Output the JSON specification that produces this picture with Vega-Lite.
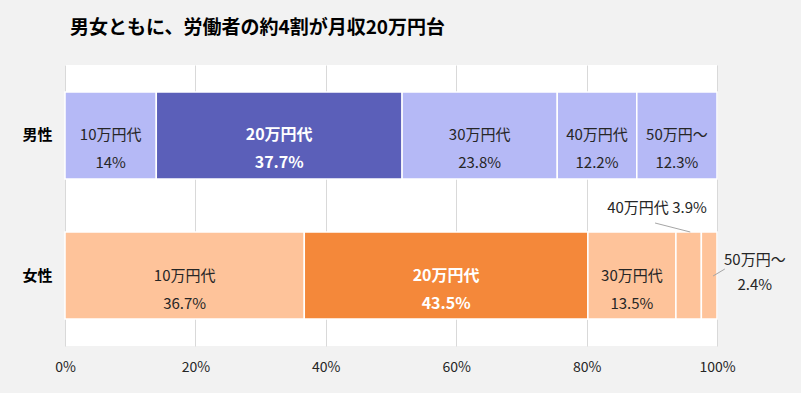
{
  "$schema": "https://vega.github.io/schema/vega-lite/v6.json",
  "autosize": {"type": "none"},
  "width": 652,
  "height": 281,
  "padding": {"left": 65, "top": 65, "right": 84, "bottom": 47},
  "background": "#f2f2f2",
  "config": {
    "font": "Noto Sans CJK JP",
    "view": {"fill": "white", "stroke": null}
  },
  "title": {
    "text": "男女ともに、労働者の約4割が月収20万円台",
    "anchor": "start",
    "frame": "group",
    "dx": 5,
    "offset": 27,
    "fontSize": 19,
    "fontWeight": "bold",
    "color": "#000000",
    "font": "Noto Sans CJK JP"
  },
  "data": {
    "values": [
      {"gender": "男性", "bracket": "10万円代", "pct": 14, "order": 1},
      {"gender": "男性", "bracket": "20万円代", "pct": 37.7, "order": 2},
      {"gender": "男性", "bracket": "30万円代", "pct": 23.8, "order": 3},
      {"gender": "男性", "bracket": "40万円代", "pct": 12.2, "order": 4},
      {"gender": "男性", "bracket": "50万円～", "pct": 12.3, "order": 5},
      {"gender": "女性", "bracket": "10万円代", "pct": 36.7, "order": 1},
      {"gender": "女性", "bracket": "20万円代", "pct": 43.5, "order": 2},
      {"gender": "女性", "bracket": "30万円代", "pct": 13.5, "order": 3},
      {"gender": "女性", "bracket": "40万円代", "pct": 3.9, "order": 4},
      {"gender": "女性", "bracket": "50万円～", "pct": 2.4, "order": 5}
    ]
  },
  "transform": [
    {"stack": "pct", "groupby": ["gender"], "sort": [{"field": "order", "order": "ascending"}], "as": ["x0", "x1"]},
    {"calculate": "(datum.x0 + datum.x1) / 2", "as": "mid"},
    {"calculate": "datum.bracket === '20万円代' ? datum.gender + '強' : datum.gender", "as": "colorKey"},
    {"calculate": "datum.bracket + '\\n' + format(datum.pct, '.1~f') + '%'", "as": "label"},
    {"calculate": "datum.bracket + ' ' + format(datum.pct, '.1~f') + '%'", "as": "label1"}
  ],
  "encoding": {
    "y": {
      "field": "gender",
      "type": "nominal",
      "sort": ["男性", "女性"],
      "scale": {"paddingInner": 0.379, "paddingOuter": 0.193},
      "axis": {
        "title": null,
        "domain": false,
        "ticks": false,
        "labelFontSize": 15,
        "labelFontWeight": "bold",
        "labelColor": "#000000",
        "labelPadding": 13
      }
    }
  },
  "layer": [
    {
      "mark": {"type": "bar", "stroke": "white", "strokeWidth": 1.5},
      "encoding": {
        "x": {
          "field": "x0",
          "type": "quantitative",
          "scale": {"domain": [0, 100], "nice": false},
          "axis": {
            "title": null,
            "values": [0, 20, 40, 60, 80, 100],
            "labelExpr": "datum.value + '%'",
            "labelFlush": false,
            "domain": false,
            "ticks": false,
            "grid": true,
            "gridColor": "#d9d9d9",
            "gridWidth": 1,
            "labelFontSize": 14,
            "labelColor": "#262626",
            "labelPadding": 14
          }
        },
        "x2": {"field": "x1"},
        "color": {
          "field": "colorKey",
          "type": "nominal",
          "scale": {
            "domain": ["男性", "男性強", "女性", "女性強"],
            "range": ["#b5b9f6", "#5b5fb9", "#fec39a", "#f4883a"]
          },
          "legend": null
        }
      }
    },
    {
      "transform": [
        {"filter": "datum.bracket !== '20万円代' && !(datum.gender === '女性' && datum.order >= 4)"}
      ],
      "mark": {"type": "text", "lineBreak": "\n", "lineHeight": 28, "fontSize": 15, "color": "#262626", "baseline": "middle"},
      "encoding": {
        "x": {"field": "mid", "type": "quantitative"},
        "text": {"field": "label", "type": "nominal"}
      }
    },
    {
      "transform": [{"filter": "datum.bracket === '20万円代'"}],
      "mark": {"type": "text", "lineBreak": "\n", "lineHeight": 28, "fontSize": 16, "fontWeight": "bold", "color": "white", "baseline": "middle"},
      "encoding": {
        "x": {"field": "mid", "type": "quantitative"},
        "text": {"field": "label", "type": "nominal"}
      }
    },
    {
      "transform": [{"filter": "datum.gender === '女性' && datum.order === 4"}],
      "mark": {"type": "text", "fontSize": 15, "color": "#262626", "baseline": "middle", "dy": -67.5},
      "encoding": {
        "x": {"datum": 90.8},
        "text": {"field": "label1", "type": "nominal"}
      }
    },
    {
      "transform": [{"filter": "datum.gender === '女性' && datum.order === 5"}],
      "mark": {"type": "text", "lineBreak": "\n", "lineHeight": 25, "fontSize": 15, "color": "#262626", "baseline": "middle", "dy": -16},
      "encoding": {
        "x": {"datum": 105.8},
        "text": {"field": "label", "type": "nominal"}
      }
    },
    {
      "transform": [{"filter": "datum.gender === '女性' && datum.order === 4"}],
      "mark": {"type": "rule", "color": "#a6a6a6", "strokeWidth": 1, "yOffset": -52.5, "y2Offset": -43.5},
      "encoding": {
        "x": {"datum": 90.5},
        "x2": {"datum": 95.9},
        "y2": {"field": "gender"}
      }
    },
    {
      "transform": [{"filter": "datum.gender === '女性' && datum.order === 5"}],
      "mark": {"type": "rule", "color": "#a6a6a6", "strokeWidth": 1, "yOffset": 0.5, "y2Offset": -6.5, "clip": false},
      "encoding": {
        "x": {"datum": 99.4},
        "x2": {"datum": 101.2},
        "y2": {"field": "gender"}
      }
    }
  ]
}
